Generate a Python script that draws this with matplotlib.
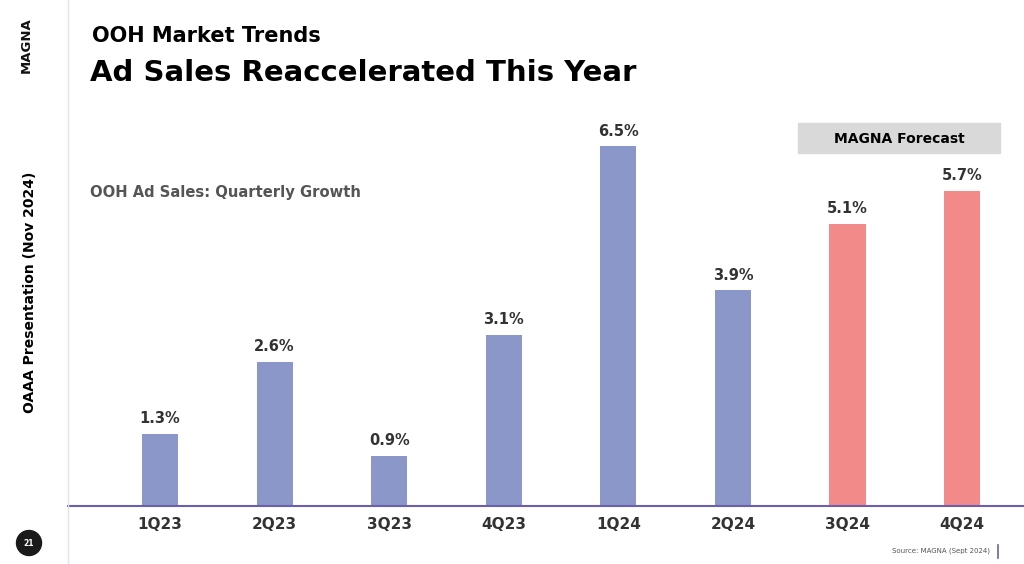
import matplotlib.pyplot as plt
from matplotlib.patches import Rectangle, Ellipse
from matplotlib.lines import Line2D

# data
quarters = ['1Q23', '2Q23', '3Q23', '4Q23', '1Q24', '2Q24', '3Q24', '4Q24']
growth = [1.3, 2.6, 0.9, 3.1, 6.5, 3.9, 5.1, 5.7]
is_forecast = [False, False, False, False, False, False, True, True]

BLUE = '#8a97c8'
PINK = '#f28a8a'
PURPLE = '#6b5fae'

fig = plt.figure(figsize=(10.24, 5.64), dpi=100)
W, H = 1024, 564

def fx(px):
    return px / W

def fy(py):
    return 1 - py / H

# main axes, baseline at y=506px
ax = fig.add_axes([fx(68), fy(506), fx(1024 - 68), fy(100) - fy(506)])
colors = [PINK if f else BLUE for f in is_forecast]
xs = list(range(len(quarters)))
ax.bar(xs, growth, width=0.315, color=colors, zorder=2)
ax.set_xlim(-0.803, 7.54)
ax.set_ylim(0, 7.34)
for x, v in zip(xs, growth):
    ax.text(x, v + 0.14, f'{v:.1f}%', ha='center', va='bottom',
            fontsize=10.5, fontweight='bold', color='#333333')
ax.set_xticks(xs)
ax.set_xticklabels(quarters, fontsize=11, fontweight='bold', color='#333333')
ax.tick_params(axis='x', length=0, pad=8)
ax.set_yticks([])
for s in ['top', 'right', 'left']:
    ax.spines[s].set_visible(False)
ax.spines['bottom'].set_color(PURPLE)
ax.spines['bottom'].set_linewidth(1.5)

# vertical separator line
fig.add_artist(Line2D([fx(68), fx(68)], [0, 1], color='#e3e3ea', lw=1))

# titles
fig.text(fx(92), fy(36), 'OOH Market Trends', fontsize=15, fontweight='bold',
         va='center', ha='left', color='black')
fig.text(fx(90), fy(73), 'Ad Sales Reaccelerated This Year', fontsize=21,
         fontweight='heavy', va='center', ha='left', color='black')
fig.text(fx(90), fy(193), 'OOH Ad Sales: Quarterly Growth', fontsize=10.6,
         fontweight='bold', va='center', ha='left', color='#555555')

# forecast box
fig.add_artist(Rectangle((fx(798), fy(153)), fx(202), fy(123) - fy(153),
                         color='#d9d9d9', transform=fig.transFigure))
fig.text(fx(899), fy(139), 'MAGNA Forecast', fontsize=10, fontweight='bold',
         ha='center', va='center', color='black')

# side labels
fig.text(fx(26), fy(45), 'MAGNA', rotation=90, fontsize=9.5, fontweight='heavy',
         ha='center', va='center', color='#111111')
fig.text(fx(30), fy(292), 'OAAA Presentation (Nov 2024)', rotation=90,
         fontsize=10, fontweight='bold', ha='center', va='center', color='black')

# page number
fig.add_artist(Ellipse((fx(29), fy(543)), fx(25), 25 / H, color='#1a1a1a',
                       transform=fig.transFigure))
fig.text(fx(29), fy(543), '21', fontsize=5.5, fontweight='bold', color='white',
         ha='center', va='center')

# source
fig.text(fx(990), fy(551), 'Source: MAGNA (Sept 2024)', fontsize=5,
         ha='right', va='center', color='#555555')
fig.add_artist(Line2D([fx(998), fx(998)], [fy(545), fy(558)], color=PURPLE, lw=1.2))

fig.savefig('out.png', dpi=100)
